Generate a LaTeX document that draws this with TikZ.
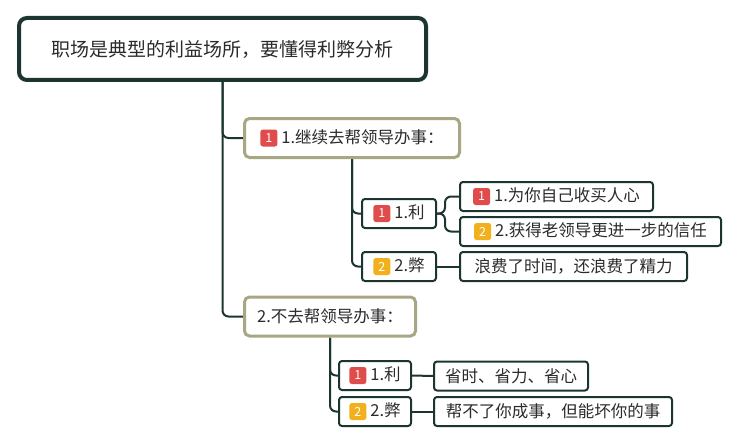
\documentclass[tikz,border=0pt]{standalone}
\usepackage{fontspec}
\newfontfamily\cjk{Noto Sans CJK SC}
\usetikzlibrary{backgrounds}
\definecolor{dk}{HTML}{1C3531}
\definecolor{ol}{HTML}{A9A783}
\definecolor{bred}{HTML}{E04B4B}
\definecolor{byel}{HTML}{F2B11C}
\definecolor{txt}{HTML}{2B2B2B}
\newcommand{\mybadge}[2]{\tikz[baseline=-0.6ex]\node[draw=none,fill=#2,rounded corners=2.5pt,minimum size=17pt,inner sep=0pt,text=white,font=\cjk\fontsize{12.5}{13}\selectfont]{#1};\hspace{4pt}}
\tikzset{
  rootbox/.style={draw=dk, line width=4pt, rounded corners=8pt, fill=white, text=txt,
    font=\cjk\fontsize{19}{22}\selectfont, minimum width=407pt, minimum height=62pt, inner sep=0pt},
  midbox/.style={draw=ol, line width=3pt, rounded corners=5pt, fill=white, text=txt,
    font=\cjk\fontsize{16.5}{19}\selectfont, minimum height=39pt, inner sep=0pt},
  subbox/.style={draw=dk, line width=2pt, rounded corners=3pt, fill=white, text=txt,
    font=\cjk\fontsize{16.5}{19}\selectfont, minimum height=29pt, inner sep=0pt},
  link/.style={draw=dk, line width=2pt, rounded corners=6pt}
}
\begin{document}
\begin{tikzpicture}[x=1pt,y=-1pt]
\useasboundingbox (0,0) rectangle (739,444);
\node[rootbox] (root) at (222.5,49) {职场是典型的利益场所，要懂得利弊分析};
\node[midbox, minimum width=215pt] (c1) at (352,138) {\mybadge{1}{bred}1.继续去帮领导办事：};
\node[midbox, minimum width=171pt] (c2) at (330,316.5) {2.不去帮领导办事：};
\node[subbox, minimum width=74pt] (a1) at (399,213.5) {\mybadge{1}{bred}1.利};
\node[subbox, minimum width=74pt] (a2) at (399,266.5) {\mybadge{2}{byel}2.弊};
\node[subbox, minimum width=193pt] (l1) at (556.5,196.5) {\mybadge{1}{bred}1.为你自己收买人心};
\node[subbox, minimum width=261pt] (l2) at (590.5,231.5) {\mybadge{2}{byel}2.获得老领导更进一步的信任};
\node[subbox, minimum width=227pt] (l3) at (573.5,266.5) {浪费了时间，还浪费了精力};
\node[subbox, minimum width=72pt] (b1) at (375,375.5) {\mybadge{1}{bred}1.利};
\node[subbox, minimum width=72pt] (b2) at (375,411.5) {\mybadge{2}{byel}2.弊};
\node[subbox, minimum width=154pt] (m1) at (511,376) {省时、省力、省心};
\node[subbox, minimum width=238pt] (m2) at (553,411.5) {帮不了你成事，但能坏你的事};
\begin{scope}[on background layer]
\draw[link] (root.south) |- (c1.west);
\draw[link] (root.south) |- (c2.west);
\draw[link] (c1.south) |- (a1.west);
\draw[link] (c1.south) |- (a2.west);
\draw[link] (a1.east) -- ++(8,0) |- (l1.west);
\draw[link] (a1.east) -- ++(8,0) |- (l2.west);
\draw[link] (a2.east) -- (l3.west);
\draw[link] (c2.south) |- (b1.west);
\draw[link] (c2.south) |- (b2.west);
\draw[link] (b1.east) -- (m1.west);
\draw[link] (b2.east) -- (m2.west);
\end{scope}
\end{tikzpicture}
\end{document}
